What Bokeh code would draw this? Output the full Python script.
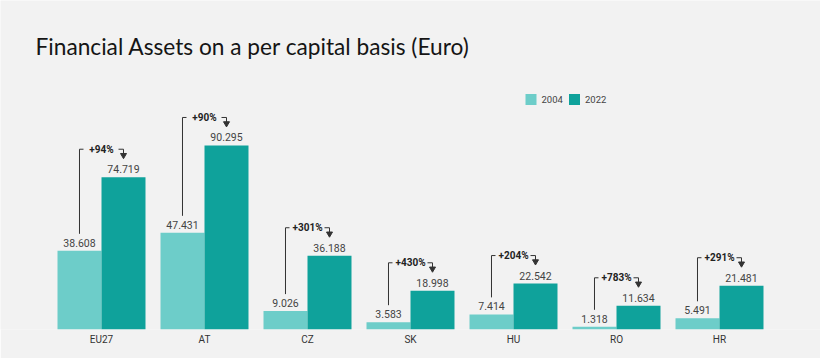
import numpy as np
from bokeh.plotting import figure
from bokeh.models import ColumnDataSource, FixedTicker
from bokeh.core.properties import value
from bokeh.embed import file_html
from bokeh.resources import INLINE

# ---- data ----
countries = ["EU27", "AT", "CZ", "SK", "HU", "RO", "HR"]
v2004 = [38.608, 47.431, 9.026, 3.583, 7.414, 1.318, 5.491]
v2022 = [74.719, 90.295, 36.188, 18.998, 22.542, 11.634, 21.481]
growth = ["+94%", "+90%", "+301%", "+430%", "+204%", "+783%", "+291%"]
series = ["2004", "2022"]
title_text = "Financial Assets on a per capital basis (Euro)"

# ---- style ----
BG = "#f2f2f2"
C2004 = "#6dcdc9"
C2022 = "#0fa29b"
LINE = "#333333"
FONT = "Roboto"

W, H = 820, 358
FW, FH = 820, 329
X0, X1 = -101 / 103, (820 - 101) / 103
Y0, Y1 = 0.0, 329 / 2.038
px_x = (X1 - X0) / FW
px_y = (Y1 - Y0) / FH

OFF = 0.2136
BW = 0.427

xs = np.arange(len(countries), dtype=float)
x04 = xs - OFF
x22 = xs + OFF
a04 = np.array(v2004)
a22 = np.array(v2022)

p = figure(width=W, height=H, x_range=(X0, X1), y_range=(Y0, Y1),
           output_backend="svg", toolbar_location=None,
           y_axis_location=None,
           min_border_left=0, min_border_right=0, min_border_top=0,
           min_border_bottom=H - FH,
           background_fill_color=BG, border_fill_color=BG,
           outline_line_color=None)
p.grid.visible = False

p.vbar(x=x04, top=a04, width=BW, bottom=0, fill_color=C2004, line_color=None)
p.vbar(x=x22, top=a22, width=BW, bottom=0, fill_color=C2022, line_color=None)

# value labels
lab = ColumnDataSource(dict(
    x=list(x04) + list(x22),
    y=list(a04 + 8 * px_y) + list(a22 + 8 * px_y),
    t=["%.3f" % v for v in v2004] + ["%.3f" % v for v in v2022],
))
p.text(x="x", y="y", text="t", source=lab, text_font=value(FONT),
       text_font_size="10.5px", text_color="#444444",
       text_align="center", text_baseline="middle")

# growth brackets
top = a22 + 28 * px_y
low = a04 + 17 * px_y
p.segment(x0=x04, y0=low, x1=x04, y1=top, line_color=LINE, line_width=1)
p.segment(x0=x04, y0=top, x1=x04 + 4 * px_x, y1=top, line_color=LINE, line_width=1)
p.segment(x0=x22 - 5 * px_x, y0=top, x1=x22, y1=top, line_color=LINE, line_width=1)
p.segment(x0=x22, y0=top, x1=x22, y1=a22 + 22 * px_y, line_color=LINE, line_width=1)
p.scatter(x=x22, y=a22 + 22 * px_y, marker="inverted_triangle", size=6,
          fill_color=LINE, line_color=LINE)
gsrc = ColumnDataSource(dict(x=xs, y=top, t=growth))
p.text(x="x", y="y", text="t", source=gsrc, text_font=value(FONT),
       text_font_size="10px", text_font_style="bold", text_color="#222222",
       text_align="center", text_baseline="middle")

# legend
lx = [X0 + 530.5 * px_x, X0 + 574 * px_x]
ly = Y1 - 99 * px_y
p.scatter(x=lx, y=[ly, ly], marker="square", size=11,
          fill_color=[C2004, C2022], line_color=None)
p.text(x=[v + 10.5 * px_x for v in lx], y=[ly, ly], text=series,
       text_font=value(FONT), text_font_size="9.5px", text_color="#444444",
       text_align="left", text_baseline="middle")

# title
p.text(x=[X0 + 35 * px_x], y=[Y1 - 46 * px_y], text=[title_text],
       text_font=value("Lato"), text_font_size="22.7px", text_color="#151515",
       text_align="left", text_baseline="middle")

# x axis
p.xaxis.ticker = FixedTicker(ticks=list(range(len(countries))))
p.xaxis.major_label_overrides = {i: c for i, c in enumerate(countries)}
p.xaxis.axis_line_color = None
p.xaxis.major_tick_line_color = None
p.xaxis.minor_tick_line_color = None
p.xaxis.major_tick_out = 0
p.xaxis.major_tick_in = 0
p.xaxis.minor_tick_out = 0
p.xaxis.major_label_standoff = 4
p.xaxis.major_label_text_font = FONT
p.xaxis.major_label_text_font_size = "10px"
p.xaxis.major_label_text_color = "#333333"

open("out.html", "w").write(file_html(p, INLINE))
